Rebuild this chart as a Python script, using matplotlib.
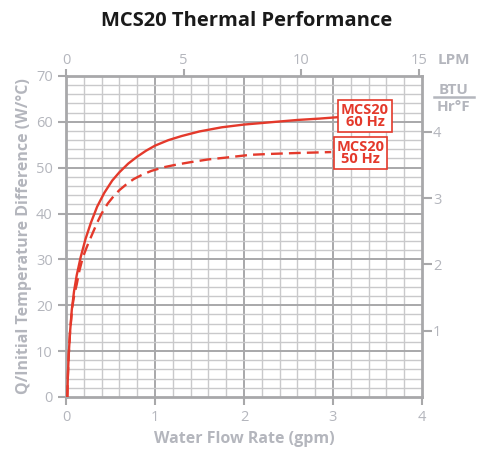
import matplotlib
matplotlib.use('Agg')
import matplotlib.pyplot as plt
import numpy as np

# --- dados ---
vazao_60hz = [0.015, 0.02, 0.03, 0.045, 0.065, 0.09, 0.12, 0.165, 0.22, 0.28, 0.35, 0.43,
              0.52, 0.6, 0.7, 0.8, 0.9, 1.0, 1.15, 1.3, 1.5, 1.75, 2.0, 2.3, 2.6, 2.85, 3.05]
q_60hz = [0, 4, 9, 14, 19, 23, 26.5, 30.5, 34.5, 38, 41.5, 44.5,
          47.2, 49.0, 50.9, 52.4, 53.7, 54.8, 56.0, 56.9, 57.9, 58.8, 59.4, 59.9, 60.4, 60.7, 61]

vazao_50hz = [0.015, 0.02, 0.03, 0.045, 0.07, 0.095, 0.12, 0.15, 0.19, 0.24, 0.29, 0.35,
              0.4, 0.47, 0.54, 0.6, 0.68, 0.76, 0.86, 0.96, 1.1, 1.25, 1.4, 1.6, 1.8, 2.07,
              2.3, 2.6, 2.98]
q_50hz = [0, 4, 9, 14, 19.5, 22.5, 24.5, 27.5, 30.5, 33, 35.3, 38,
          40, 42.2, 43.9, 45.1, 46.4, 47.5, 48.5, 49.3, 50.1, 50.7, 51.2, 51.8, 52.2, 52.8,
          53.0, 53.2, 53.4]

rotulos = ['MCS20\n60 Hz', 'MCS20\n50 Hz']
ticks_lpm = [0, 5, 10, 15]
ticks_btu = [1, 2, 3, 4]

GPM_PARA_LPM = 3.785
W_POR_BTU = 14.45

VERMELHO = '#e4392b'
CINZA_TXT = '#b4b6bd'
CINZA_EIXO = '#a8a8aa'
CINZA_GRADE = '#c9c9cb'

plt.rcParams['font.family'] = ['Open Sans', 'DejaVu Sans']

fig = plt.figure(figsize=(4.94, 4.67), dpi=100)
ax = fig.add_axes([0.1336, 0.1499, 0.7206, 0.6875])

ax.set_xlim(0, 4)
ax.set_ylim(0, 70)

# grade
for x in np.arange(0.2, 4.0, 0.2):
    maior = abs(x - round(x)) < 1e-6
    ax.axvline(x, color=CINZA_EIXO if maior else CINZA_GRADE, lw=1.4 if maior else 1.0, zorder=0)
for y in np.arange(2, 70, 2):
    maior = y % 10 == 0
    ax.axhline(y, color=CINZA_EIXO if maior else CINZA_GRADE, lw=1.4 if maior else 1.0, zorder=0)

ax.plot(vazao_60hz, q_60hz, color=VERMELHO, lw=1.7, zorder=3)
ax.plot(vazao_50hz, q_50hz, color=VERMELHO, lw=1.7, dashes=(5, 2.6), zorder=3)

caixa = dict(boxstyle='square,pad=0.2', fc='white', ec=VERMELHO, lw=1.2)
ax.text(3.36, 61.3, rotulos[0], color=VERMELHO, fontsize=10.5, fontweight='bold',
        ha='center', va='center', linespacing=0.8, bbox=caixa, zorder=4)
ax.text(3.31, 53.2, rotulos[1], color=VERMELHO, fontsize=10.5, fontweight='bold',
        ha='center', va='center', linespacing=0.8, bbox=caixa, zorder=4)

for s in ax.spines.values():
    s.set_color(CINZA_EIXO)
    s.set_linewidth(2)

ax.set_xticks([0, 1, 2, 3, 4])
ax.set_yticks(np.arange(0, 71, 10))
ax.tick_params(axis='both', colors=CINZA_EIXO, labelcolor=CINZA_TXT, labelsize=10.5,
               length=6, width=1.5, direction='out')
ax.set_xlabel('Water Flow Rate (gpm)', color=CINZA_TXT, fontsize=11.5, fontweight='bold', labelpad=4)
ax.set_ylabel('Q/Initial Temperature Difference (W/°C)', color=CINZA_TXT, fontsize=11.5,
              fontweight='bold', labelpad=3)

# eixo superior em LPM
topo = ax.secondary_xaxis('top', functions=(lambda g: g * GPM_PARA_LPM, lambda l: l / GPM_PARA_LPM))
topo.set_xticks(ticks_lpm)
topo.tick_params(colors=CINZA_EIXO, labelcolor=CINZA_TXT, labelsize=10.5, length=5, width=1.5, pad=1)
topo.spines['top'].set_visible(False)

# eixo direito em BTU/Hr°F
direita = ax.secondary_yaxis('right', functions=(lambda w: w / W_POR_BTU, lambda b: b * W_POR_BTU))
direita.set_yticks(ticks_btu)
direita.tick_params(colors=CINZA_EIXO, labelcolor=CINZA_TXT, labelsize=10.5, length=7, width=1.5, pad=1)
direita.spines['right'].set_visible(False)

fig.text(0.919, 0.871, 'LPM', color=CINZA_TXT, fontsize=11, fontweight='bold', ha='center', va='center')
fig.text(0.918, 0.807, 'BTU', color=CINZA_TXT, fontsize=11, fontweight='bold', ha='center', va='center')
fig.add_artist(plt.Line2D([0.879, 0.960], [0.792, 0.792], color=CINZA_TXT, lw=1.8))
fig.text(0.918, 0.770, 'Hr°F', color=CINZA_TXT, fontsize=11, fontweight='bold', ha='center', va='center')

fig.text(0.5, 0.955, 'MCS20 Thermal Performance', color='#1a1a1a', fontsize=14.5,
         fontweight='bold', ha='center', va='center')

fig.savefig('out.png', dpi=100, facecolor='white')
